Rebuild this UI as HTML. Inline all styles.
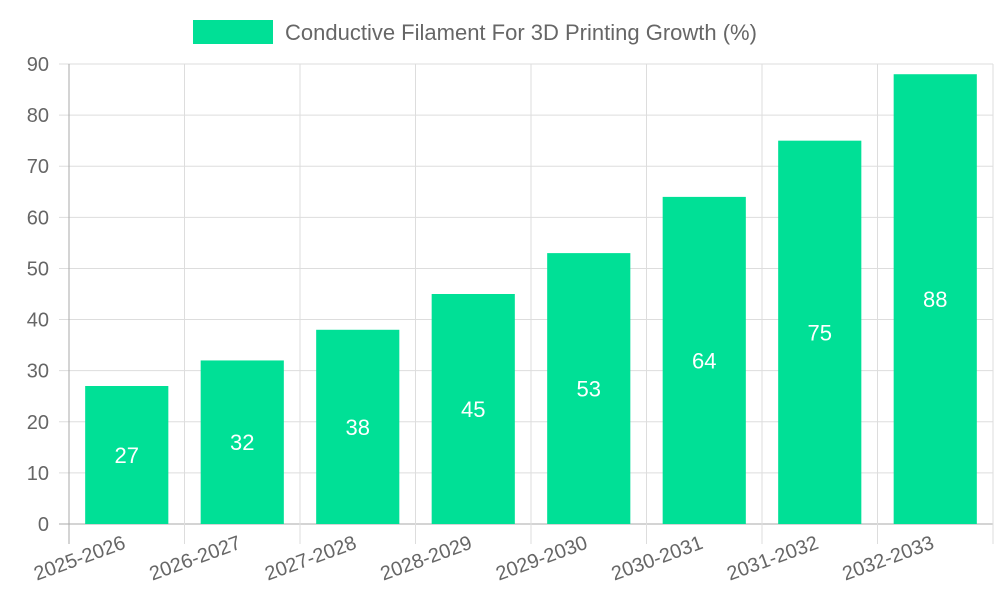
<!DOCTYPE html>
<html><head><meta charset="utf-8"><style>
body{margin:0;background:#fff;}
svg{display:block;font-family:"Liberation Sans",sans-serif;}
</style></head><body>
<svg id="chart" width="1000" height="600">
<g id="legend">
<rect x="193" y="20" width="80" height="24" fill="#00e096"/>
<text x="285" y="40" font-size="22" fill="#666">Conductive Filament For 3D Printing Growth (%)</text>
</g>
<g id="grid"></g><g id="bars"></g><g id="axes"></g>
</svg>
<script>
const categories=["2025-2026","2026-2027","2027-2028","2028-2029","2029-2030","2030-2031","2031-2032","2032-2033"];
const values=[27,32,38,45,53,64,75,88];
const yTicks=[0,10,20,30,40,50,60,70,80,90];
const NS="http://www.w3.org/2000/svg";
const X0=69,X1=993,Y0=524,Y1=64,YMAX=90;
const bw=(X1-X0)/categories.length;
const y=v=>Y0-(v/YMAX)*(Y0-Y1);
const xc=i=>X0+bw*(i+0.5);
function mk(t,a,p){const e=document.createElementNS(NS,t);for(const k in a)e.setAttribute(k,a[k]);p.appendChild(e);return e;}
const grid=document.getElementById('grid'),bars=document.getElementById('bars'),axes=document.getElementById('axes');
yTicks.forEach(t=>{
const l=mk('line',{x1:X0-10,x2:X1,y1:y(t),y2:y(t),stroke:t===0?'#aaa':'#ddd','stroke-width':1},grid);


const tx=mk('text',{x:X0-20,y:y(t)+7,'text-anchor':'end','font-size':20,fill:'#666'},axes);
tx.textContent=t;


});
for(let i=0;i<=categories.length;i++){
const gx=X0+bw*i;
const l=mk('line',{x1:gx,x2:gx,y1:Y1,y2:Y0+20,stroke:i===0?'#aaa':'#ddd','stroke-width':1},grid);


}
categories.forEach((c,i)=>{
const w=bw*0.72;
const r=mk('rect',{x:xc(i)-w/2,y:y(values[i]),width:w,height:Y0-y(values[i]),fill:'#00e096'},bars);


const vt=mk('text',{x:xc(i),y:(y(values[i])+Y0)/2+8,'text-anchor':'middle','font-size':22,fill:'#fff'},bars);
vt.textContent=values[i];


const lt=mk('text',{x:xc(i),y:548,'text-anchor':'end','font-size':20,fill:'#666',transform:'rotate(-20 '+xc(i)+' 548)'},axes);
lt.textContent=c;


});
</script>
</body></html>
